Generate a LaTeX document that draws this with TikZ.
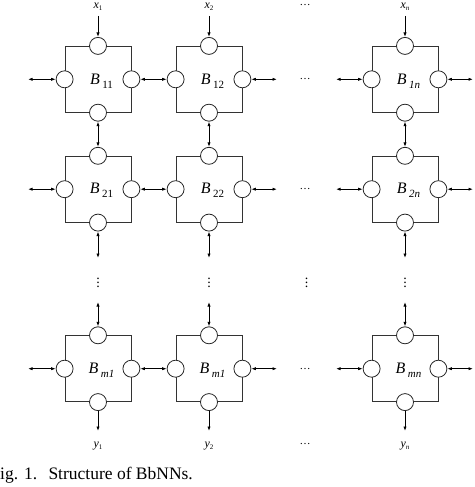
\documentclass[tikz,border=0pt]{standalone}
\usepackage{fontspec}
\setmainfont{Liberation Serif}
\usetikzlibrary{arrows.meta}
\newcommand\blab[1]{{\fontsize{16}{18}\selectfont\itshape B}\hspace{2.5pt}\raisebox{-4pt}{\fontsize{11}{12}\selectfont #1}}
\newcommand\iolab[2]{{\fontsize{12}{14}\selectfont\itshape #1}\raisebox{-2.5pt}{\fontsize{7}{8}\selectfont #2}}
\begin{document}
\begin{tikzpicture}[x=1pt,y=-1pt,
  port/.style={circle,draw=black!85,line width=0.8pt,minimum size=17pt,inner sep=0pt,fill=white},
  blk/.style={draw=black!80,line width=0.8pt,minimum size=66pt,inner sep=0pt},
  tipA/.tip={Latex[length=4.5pt,width=3.2pt]},
  conn/.style={line width=0.8pt,-tipA},
  bconn/.style={line width=0.8pt,tipA-tipA},
  dotsl/.style={inner sep=0pt,font=\fontsize{11}{12}\selectfont},
  vdotsl/.style={inner sep=0pt,font=\fontsize{14}{15}\selectfont},
  captext/.style={inner sep=0pt,font=\fontsize{17.5}{20}\selectfont}
]
\useasboundingbox (0,0) rectangle (474,487);
% blocks and ports
\foreach \c/\x in {1/98,2/209,3/405}{
  \foreach \r/\y in {1/79.3,2/189.2,3/368.7}{
    \node[blk] (k\r\c) at (\x,\y) {};
    \node[port] (t\r\c) at (k\r\c.north) {};
    \node[port] (b\r\c) at (k\r\c.south) {};
    \node[port] (l\r\c) at (k\r\c.west) {};
    \node[port] (r\r\c) at (k\r\c.east) {};
  }
}
% block labels
\node (n11) at ([shift={(3.5,1.5)}]k11.center) {\blab{11}};
\node (n12) at ([shift={(3.5,1.5)}]k12.center) {\blab{12}};
\node (n13) at ([shift={(3.5,1.5)}]k13.center) {\blab{\itshape 1n}};
\node (n21) at ([shift={(3.5,1.5)}]k21.center) {\blab{21}};
\node (n22) at ([shift={(3.5,1.5)}]k22.center) {\blab{22}};
\node (n23) at ([shift={(3.5,1.5)}]k23.center) {\blab{\itshape 2n}};
\node (n31) at ([shift={(3.5,1.5)}]k31.center) {\blab{\itshape m1}};
\node (n32) at ([shift={(3.5,1.5)}]k32.center) {\blab{\itshape m1}};
\node (n33) at ([shift={(3.5,1.5)}]k33.center) {\blab{\itshape mn}};
% input / output labels
\node[inner sep=0pt] (x1) at (98,6.5) {\iolab{x}{1}};
\node[inner sep=0pt] (x2) at (209,6.5) {\iolab{x}{2}};
\node[inner sep=0pt] (xn) at (405,6.5) {\iolab{x}{\itshape n}};
\node[inner sep=0pt] (y1) at (98,446) {\iolab{y}{1}};
\node[inner sep=0pt] (y2) at (209,446) {\iolab{y}{2}};
\node[inner sep=0pt] (yn) at (405,446) {\iolab{y}{\itshape n}};
% dots
\node[dotsl] (dtop) at (305,5) {\dots};
\node[dotsl] (drow1) at (305,79.3) {\dots};
\node[dotsl] (drow2) at (305,189.2) {\dots};
\node[dotsl] (drow3) at (305,368.7) {\dots};
\node[dotsl] (dbot) at (305,444) {\dots};
\node[vdotsl] (v1) at (98,280) {$\vdots$};
\node[vdotsl] (v2) at (209,280) {$\vdots$};
\node[vdotsl] (vm) at (306.5,280) {$\vdots$};
\node[vdotsl] (v3) at (405,280) {$\vdots$};
% free ends
\foreach \c/\x in {1/98,2/209,3/405}{
  \coordinate (in\c) at (\x,16);
  \coordinate (d\c) at (\x,258);
  \coordinate (u\c) at (\x,302);
  \coordinate (o\c) at (\x,431);
}
\foreach \r/\y in {1/79.3,2/189.2,3/368.7}{
  \coordinate (fl\r) at (28,\y);
  \coordinate (fa\r) at (277,\y);
  \coordinate (fb\r) at (336,\y);
  \coordinate (fr\r) at (473,\y);
  \draw[bconn] (fl\r) -- (l\r1);
  \draw[bconn] (r\r1) -- (l\r2);
  \draw[bconn] (r\r2) -- (fa\r);
  \draw[bconn] (fb\r) -- (l\r3);
  \draw[bconn] (r\r3) -- (fr\r);
}
\foreach \c in {1,2,3}{
  \draw[conn] (in\c) -- (t1\c);
  \draw[bconn] (b1\c) -- (t2\c);
  \draw[bconn] (b2\c) -- (d\c);
  \draw[bconn] (u\c) -- (t3\c);
  \draw[conn] (b3\c) -- (o\c);
}
% caption
\node[captext,anchor=base west] (fig) at (-9.7,479) {Fig. 1.};
\node[captext,anchor=base west] (title) at (48.3,479) {Structure of BbNNs.};
\end{tikzpicture}
\end{document}
